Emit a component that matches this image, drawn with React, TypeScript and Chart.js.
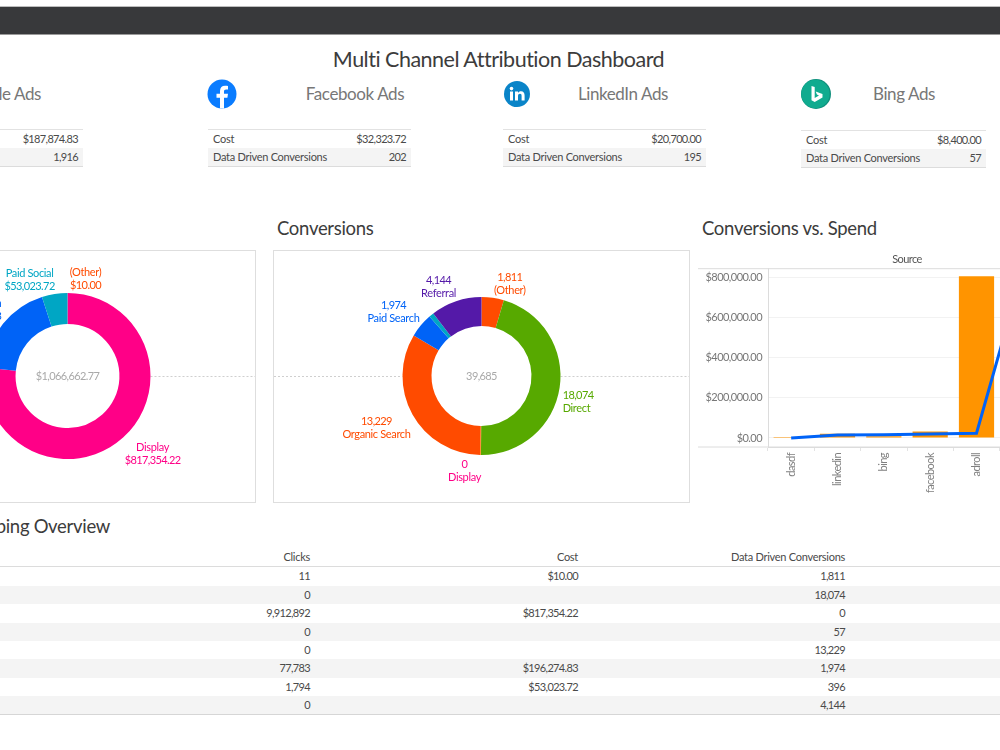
import React, { useEffect, useRef } from "react";
import { Chart, registerables } from "chart.js";

Chart.register(...registerables);

const FONT = "Lato, sans-serif";

const channels = ["(Other)", "Direct", "Display", "Unlabelled", "Organic Search", "Paid Search", "Paid Social", "Referral"];
const costValues = [10, 0, 817354.22, 0, 0, 196274.83, 53023.72, 0];
const conversionValues = [1811, 18074, 0, 57, 13229, 1974, 396, 4144];
const channelColors = ["#ff4b00", "#57a900", "#ff0087", "#ff9400", "#ff4b00", "#0063f7", "#00a6c4", "#5419a8"];

const sources = ["dasdf", "linkedin", "bing", "facebook", "adroll", "google"];
const sourceCost = [10, 20700, 8400, 32323.72, 805000, 187874.83];
const sourceConversions = [0, 34, 38, 46, 54, 1916];
const costTicks = [0, 200000, 400000, 600000, 800000];

const clicksColumn = ["11", "0", "9,912,892", "0", "0", "77,783", "1,794", "0"];
const costColumn = ["$10.00", "", "$817,354.22", "", "", "$196,274.83", "$53,023.72", ""];
const conversionsColumn = ["1,811", "18,074", "0", "57", "13,229", "1,974", "396", "4,144"];

const money = (v: number) =>
  "$" + v.toLocaleString("en-US", { minimumFractionDigits: 2, maximumFractionDigits: 2 });
const count = (v: number) => v.toLocaleString("en-US");

type LabelPlace = { dx: number; dy: number; align?: CanvasTextAlign };

const donutPlugin = {
  id: "donutDecor",
  beforeDatasetsDraw(chart: any) {
    const { ctx, chartArea } = chart;
    const arc = chart.getDatasetMeta(0).data[0];
    const y = Math.round(arc.y) + 0.5;
    ctx.save();
    ctx.strokeStyle = "#cfcfcf";
    ctx.setLineDash([2, 2]);
    ctx.lineWidth = 1;
    ctx.beginPath();
    ctx.moveTo(chartArea.left, y);
    ctx.lineTo(arc.x - arc.outerRadius, y);
    ctx.moveTo(arc.x + arc.outerRadius, y);
    ctx.lineTo(chartArea.right, y);
    ctx.stroke();
    ctx.restore();
  },
  afterDatasetsDraw(chart: any, _args: any, opts: any) {
    const { ctx } = chart;
    const meta = chart.getDatasetMeta(0);
    const values: number[] = chart.data.datasets[0].data;
    ctx.save();
    ctx.font = `${opts.size}px ${FONT}`;
    ctx.textBaseline = "middle";
    const line = (text: string, x: number, y: number, numeric: boolean) => {
      ctx.letterSpacing = numeric ? "-0.6px" : "-0.35px";
      ctx.fillText(text, x, y);
    };
    meta.data.forEach((arc: any, i: number) => {
      const place: LabelPlace | undefined = opts.places[i];
      if (!place) return;
      const mid = (arc.startAngle + arc.endAngle) / 2;
      const x = arc.x + Math.cos(mid) * arc.outerRadius + place.dx;
      const y = arc.y + Math.sin(mid) * arc.outerRadius + place.dy;
      const name = chart.data.labels[i];
      const val = opts.format(values[i]);
      ctx.fillStyle = channelColors[i];
      ctx.textAlign = place.align || "center";
      line(opts.nameFirst ? name : val, x, y - 6.5, !opts.nameFirst);
      line(opts.nameFirst ? val : name, x, y + 6.5, opts.nameFirst);
    });
    const total = values.reduce((a, b) => a + b, 0);
    ctx.fillStyle = "#a9a9a9";
    ctx.textAlign = "center";
    line(opts.format(total), meta.data[0].x, meta.data[0].y, true);
    ctx.restore();
  },
};

const frameLinesPlugin = {
  id: "frameLines",
  beforeDraw(chart: any) {
    chart.ctx.letterSpacing = "-0.55px";
  },
  afterDraw(chart: any) {
    const { ctx, chartArea, width } = chart;
    ctx.save();
    ctx.strokeStyle = "#dcdcdc";
    ctx.lineWidth = 1;
    [chartArea.top, chartArea.bottom].forEach((y: number) => {
      ctx.beginPath();
      ctx.moveTo(0, y);
      ctx.lineTo(width, y);
      ctx.stroke();
    });
    ctx.restore();
  },
};

function Donut({ values, radius, cutout, format, nameFirst, places, w }: any) {
  const ref = useRef<HTMLCanvasElement>(null);
  useEffect(() => {
    const chart = new Chart(ref.current!, {
      type: "doughnut",
      data: {
        labels: channels,
        datasets: [{ data: values, backgroundColor: channelColors, borderWidth: 0 }],
      },
      options: {
        responsive: false,
        animation: false,
        radius,
        cutout,
        plugins: {
          legend: { display: false },
          tooltip: { enabled: false },
          donutDecor: { places, format, nameFirst, size: 11 },
        } as any,
      },
      plugins: [donutPlugin],
    });
    return () => chart.destroy();
  }, []);
  return <canvas ref={ref} width={w} height={250} style={{ display: "block" }} />;
}

function Combo() {
  const ref = useRef<HTMLCanvasElement>(null);
  useEffect(() => {
    const chart = new Chart(ref.current!, {
      type: "bar",
      data: {
        labels: sources,
        datasets: [
          {
            type: "line",
            label: "Data Driven Conversions",
            data: sourceConversions,
            yAxisID: "y2",
            borderColor: "#0063f7",
            borderWidth: 3,
            pointRadius: 0,
            tension: 0,
            order: 0,
          },
          {
            type: "bar",
            label: "Cost",
            data: sourceCost,
            yAxisID: "y",
            backgroundColor: "#ff9400",
            barPercentage: 0.76,
            categoryPercentage: 1,
            order: 1,
          },
        ] as any,
      },
      options: {
        responsive: false,
        animation: false,
        layout: { padding: { right: 14 } },
        plugins: {
          legend: { display: false },
          tooltip: { enabled: false },
          title: {
            display: true,
            fullSize: false,
            text: "Source",
            color: "#555",
            font: { family: FONT, size: 11, weight: "normal" },
            padding: { top: 3, bottom: 2.5 },
          },
        },
        scales: {
          x: {
            offset: true,
            grid: { offset: true, drawOnChartArea: false, drawTicks: true, tickLength: 4, color: "#e3e3e3" },
            border: { color: "#dcdcdc" },
            ticks: {
              minRotation: 90,
              maxRotation: 90,
              padding: 2,
              color: "#808080",
              font: { family: FONT, size: 11 },
            },
            afterFit(s: any) {
              s.height = 55;
            },
          },
          y: {
            min: -45000,
            max: 843000,
            position: "left",
            grid: { drawTicks: false, color: "#f2f2f2" },
            border: { color: "#dcdcdc" },
            afterBuildTicks(s: any) {
              s.ticks = costTicks.map((value) => ({ value }));
            },
            ticks: {
              padding: 6,
              color: "#777",
              font: { family: FONT, size: 11 },
              callback: (v: any) => money(Number(v)),
            },
            afterFit(s: any) {
              s.width = 70;
            },
          },
          y2: { display: false, min: -103, max: 1930, position: "right" },
        },
      },
      plugins: [frameLinesPlugin],
    });
    return () => chart.destroy();
  }, []);
  return <canvas ref={ref} width={362} height={252} style={{ display: "block" }} />;
}

const abs = (left: number, top: number, extra: any = {}): React.CSSProperties => ({
  position: "absolute",
  left,
  top,
  whiteSpace: "nowrap",
  ...extra,
});

const NUM = -0.65;
const TXT = -0.28;

function StatTable({ left, top, width, cost, conv }: any) {
  const rowStyle = { display: "flex", justifyContent: "space-between", padding: "0 5px", height: 18, lineHeight: "18px" };
  return (
    <div
      style={abs(left, top, {
        width,
        fontSize: 11,
        color: "#4a4a4a",
        borderTop: "1px solid #e2e2e2",
        borderBottom: "1px solid #dcdcdc",
      })}
    >
      <div style={rowStyle}>
        <span style={{ letterSpacing: TXT }}>Cost</span>
        <span style={{ letterSpacing: NUM }}>{cost}</span>
      </div>
      <div style={{ ...rowStyle, background: "#f4f4f4" }}>
        <span style={{ letterSpacing: TXT }}>Data Driven Conversions</span>
        <span style={{ letterSpacing: NUM }}>{conv}</span>
      </div>
    </div>
  );
}

function Heading({ x, y, text, size = 18.5, color = "#3c3c3c", align = "left", spacing = -0.3 }: any) {
  const tx = align === "center" ? "translate(-50%,-50%)" : align === "right" ? "translate(-100%,-50%)" : "translate(0,-50%)";
  return <div style={abs(x, y, { fontSize: size, color, transform: tx, lineHeight: 1, letterSpacing: spacing })}>{text}</div>;
}

const panel = (left: number, width: number): React.CSSProperties => ({
  position: "absolute",
  left,
  top: 250,
  width,
  height: 251,
  border: "1px solid #dedede",
  boxSizing: "content-box",
  background: "#fff",
});

export default function App() {
  useEffect(() => {
    document.body.style.margin = "0";
    document.body.style.background = "#fff";
  }, []);

  const costPlaces: (LabelPlace | undefined)[] = [
    { dx: 18, dy: -14 },
    undefined,
    { dx: 29.5, dy: 16 },
    undefined,
    undefined,
    { dx: -1.7, dy: -14, align: "right" },
    { dx: -25, dy: -14 },
    undefined,
  ];
  const convPlaces: (LabelPlace | undefined)[] = [
    { dx: 17, dy: -14 },
    { dx: 3, dy: 14, align: "left" },
    { dx: -16.5, dy: 16 },
    undefined,
    { dx: -36, dy: 14 },
    { dx: -27.4, dy: -13.5 },
    undefined,
    { dx: -17.5, dy: -14.5 },
  ];

  const rowTops = [567, 585.5, 604, 622.5, 640.5, 659, 677.5, 695.5];
  const cell = (right: number, text: string, spacing: number) => (
    <span style={abs(0, 0, { width: right, textAlign: "right", letterSpacing: spacing })}>{text}</span>
  );
  return (
    <div style={{ position: "fixed", left: 0, top: 0, width: 1000, height: 750, overflow: "hidden", background: "#fff", fontFamily: FONT }}>
      <div style={abs(0, 6, { width: 1000, height: 29, background: "#38393b", borderTop: "1px solid #bdbdbd", borderBottom: "1px solid #9a9a9a", boxSizing: "border-box" })} />
      <Heading x={498.5} y={60} text="Multi Channel Attribution Dashboard" size={21.5} spacing={-0.5} align="center" />

      <Heading x={41} y={93} text="Google Ads" size={17} spacing={-0.4} color="#777" align="right" />
      <Heading x={355} y={93} text="Facebook Ads" size={17} spacing={-0.4} color="#777" align="center" />
      <Heading x={623} y={93} text="LinkedIn Ads" size={17} spacing={-0.4} color="#777" align="center" />
      <Heading x={904} y={93} text="Bing Ads" size={17} spacing={-0.4} color="#777" align="center" />

      <svg style={abs(207, 79)} width="30" height="30" viewBox="0 0 30 30">
        <circle cx="15" cy="15" r="14.5" fill="#0a7cff" />
        <path d="M17 29.4V18.8h3.4l.6-4h-4v-2.4c0-1.2.5-2 2.2-2H21V7c-.6-.1-1.7-.2-3-.2-3 0-5 1.8-5 5.1v2.9H9.5v4H13v10.4z" fill="#fff" />
      </svg>
      <svg style={abs(504, 81)} width="26" height="26" viewBox="0 0 26 26">
        <circle cx="13" cy="13" r="13" fill="#0a84c8" />
        <rect x="6" y="10.5" width="3" height="9" fill="#fff" />
        <circle cx="7.5" cy="7.6" r="1.8" fill="#fff" />
        <path d="M11 10.5h3v1.4c.6-1 1.6-1.6 3-1.6 2.5 0 3.6 1.6 3.6 4.2v5h-3v-4.6c0-1.3-.4-2.2-1.6-2.2s-2 .9-2 2.3v4.5h-3z" fill="#fff" />
      </svg>
      <svg style={abs(801, 79)} width="30" height="30" viewBox="0 0 30 30">
        <circle cx="15" cy="15" r="15" fill="#0f8f7c" />
        <circle cx="14.4" cy="15" r="14.2" fill="#10ab8f" />
        <path d="M10.5 7l3.2 1.1v11l4.3-2.5-2.1-1-1.2-3 6.8 2.4v3.4l-7.8 4.6-3.2-1.8z" fill="#fff" />
      </svg>

      <StatTable left={-120} top={129} width={203} cost="$187,874.83" conv="1,916" />
      <StatTable left={208} top={129} width={203} cost="$32,323.72" conv="202" />
      <StatTable left={503} top={129} width={203} cost="$20,700.00" conv="195" />
      <StatTable left={801} top={130} width={185} cost="$8,400.00" conv="57" />

      <Heading x={277} y={228} text="Conversions" />
      <Heading x={702} y={228} text="Conversions vs. Spend" />

      <div style={panel(-121, 375)}>
        <Donut values={costValues} radius={83} cutout="62.6%" format={money} nameFirst places={costPlaces} w={375} />
      </div>
      <div style={panel(273, 415)}>
        <Donut values={conversionValues} radius={79} cutout="63.3%" format={count} nameFirst={false} places={convPlaces} w={415} />
      </div>
      <div style={abs(698, 250)}>
        <Combo />
      </div>

      <Heading x={110} y={526} text="Channel Grouping Overview" align="right" />

      <div style={abs(0, 548, { width: 1000, height: 18, borderBottom: "1px solid #dcdcdc", fontSize: 11, color: "#4a4a4a", lineHeight: "18px" })}>
        {cell(310, "Clicks", TXT)}
        {cell(578, "Cost", TXT)}
        {cell(845, "Data Driven Conversions", TXT)}
      </div>
      {clicksColumn.map((c, i) => (
        <div
          key={i}
          style={abs(0, rowTops[i], {
            width: 1000,
            height: 18.5,
            lineHeight: "18.5px",
            fontSize: 11,
            color: "#4a4a4a",
            background: i % 2 ? "#f4f4f4" : "#fff",
          })}
        >
          {cell(310, c, NUM)}
          {cell(578, costColumn[i], NUM)}
          {cell(845, conversionsColumn[i], NUM)}
        </div>
      ))}
      <div style={abs(0, 713.5, { width: 1000, height: 1, background: "#d6d6d6" })} />
    </div>
  );
}
